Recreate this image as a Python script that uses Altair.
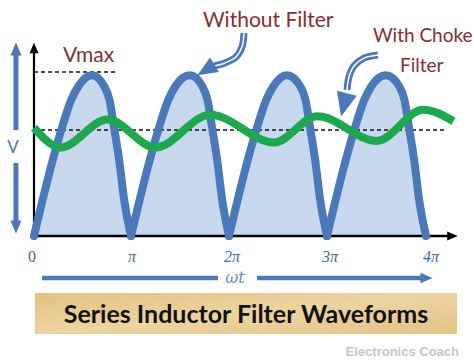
import altair as alt
import pandas as pd

# ---------------- data ----------------
# x in units of pi, y in units of Vmax
hump_id = [1] * 12 + [2] * 12 + [3] * 12 + [4] * 12
hump_x = [0.00, 0.19, 0.28, 0.38, 0.45, 0.59, 0.72, 0.77, 0.82, 0.87, 0.92, 0.99,
          0.99, 1.18, 1.27, 1.37, 1.44, 1.59, 1.72, 1.77, 1.82, 1.87, 1.92, 1.99,
          1.99, 2.18, 2.27, 2.37, 2.44, 2.58, 2.72, 2.77, 2.82, 2.87, 2.92, 2.99,
          2.99, 3.18, 3.27, 3.37, 3.44, 3.59, 3.73, 3.78, 3.83, 3.88, 3.93, 4.00]
hump_y = [0.00, 0.46, 0.65, 0.83, 0.91, 0.98, 0.91, 0.83, 0.65, 0.46, 0.22, 0.00,
          0.00, 0.46, 0.65, 0.83, 0.91, 0.98, 0.91, 0.83, 0.65, 0.46, 0.22, 0.00,
          0.00, 0.46, 0.65, 0.83, 0.91, 0.98, 0.91, 0.83, 0.65, 0.46, 0.22, 0.00,
          0.00, 0.46, 0.65, 0.83, 0.91, 0.98, 0.91, 0.83, 0.65, 0.46, 0.22, 0.00]

green_x = [0.00, 0.27, 0.75, 1.24, 1.80, 2.45, 2.89, 3.50, 3.97, 4.28]
green_y = [0.66, 0.54, 0.71, 0.54, 0.74, 0.57, 0.73, 0.58, 0.77, 0.70]

tick_labels = ["0", "π", "2π", "3π", "4π"]
tick_pos = [-0.02, 1.00, 2.02, 3.02, 4.05]

vmax_level = 1.0
mean_level = 0.646

title_text = "Series Inductor Filter Waveforms"
watermark = "Electronics Coach"

# ---------------- styles ----------------
BLUE = "#4A78B8"
FILL = "#C8D8EF"
GREEN = "#1CA84C"
RED = "#7F2F35"
TICKC = "#3F6897"

xs = alt.Scale(domain=[-0.3469, 4.4898], nice=False, zero=False)
ys = alt.Scale(domain=[-0.7622, 1.4390], nice=False, zero=False)


def X(f="x"):
    return alt.X(f"{f}:Q", scale=xs, axis=None)


def Y(f="y"):
    return alt.Y(f"{f}:Q", scale=ys, axis=None)


humps = pd.DataFrame({"id": hump_id, "x": hump_x, "y": hump_y})
green = pd.DataFrame({"x": green_x, "y": green_y})

area = alt.Chart(humps).mark_area(interpolate="monotone", color=FILL, opacity=1).encode(
    x=X(), y=Y(), detail="id:N")

blue_line = alt.Chart(humps).mark_line(interpolate="monotone", color=BLUE, strokeWidth=8,
                                       strokeCap="round", strokeJoin="round").encode(
    x=X(), y=Y(), detail="id:N")

green_line = alt.Chart(green).mark_line(interpolate="monotone", color=GREEN, strokeWidth=8,
                                        strokeCap="butt").encode(x=X(), y=Y())

dashed = alt.Chart(pd.DataFrame({
    "x": [0.0, 0.0], "x2": [0.857, 4.19], "y": [vmax_level, mean_level]
})).mark_rule(color="#111", strokeWidth=1.4, strokeDash=[4, 3]).encode(
    x=X(), x2="x2:Q", y=Y())

# solid rules: axes and the V / wt arrows
rules = pd.DataFrame({
    "x":  [0.0, 0.0, -0.184, -0.184, 0.082, 2.276],
    "x2": [0.0, 4.22, -0.184, -0.184, 1.878, 3.95],
    "y":  [0.0, 0.0, 1.104, 0.445, -0.256, -0.256],
    "y2": [1.12, 0.0, 0.646, 0.09, -0.256, -0.256],
    "c":  ["#000", "#000", BLUE, BLUE, BLUE, BLUE],
    "w":  [2.2, 2.6, 5, 5, 4.5, 4.5],
})
rule_layer = alt.Chart(rules).mark_rule().encode(
    x=X(), x2="x2:Q", y=Y(), y2="y2:Q",
    color=alt.Color("c:N", scale=None),
    strokeWidth=alt.StrokeWidth("w:Q", scale=None))

# arrowheads
TRI = "M0,-1L0.85,1L-0.85,1Z"
heads = pd.DataFrame({
    "x": [0.0, 4.27, -0.184, -0.184, 4.005, 1.755, 3.163],
    "y": [1.146, 0.0, 1.14, 0.055, -0.256, 1.012, 0.799],
    "a": [0, 90, 0, 180, 90, 238, 194],
    "s": [110, 110, 169, 169, 150, 400, 576],
    "c": ["#000", "#000", BLUE, BLUE, BLUE, BLUE, BLUE],
})
head_layer = alt.Chart(heads).mark_point(shape=TRI, filled=True, opacity=1, strokeWidth=0).encode(
    x=X(), y=Y(),
    angle=alt.Angle("a:Q", scale=None),
    size=alt.Size("s:Q", scale=None),
    color=alt.Color("c:N", scale=None))

# curved annotation arrow shafts
shafts = pd.DataFrame({
    "g": [1, 1, 1, 1, 1, 2, 2, 2, 2, 2],
    "i": [0, 1, 2, 3, 4, 0, 1, 2, 3, 4],
    "x": [2.143, 2.122, 2.061, 1.949, 1.837, 3.510, 3.367, 3.265, 3.214, 3.194],
    "y": [1.238, 1.152, 1.091, 1.055, 1.037, 1.104, 1.085, 1.037, 0.970, 0.890],
})
shaft_blue = alt.Chart(shafts).mark_line(interpolate="catmull-rom", color=BLUE, strokeWidth=7).encode(
    x=X(), y=Y(), detail="g:N", order="i:Q")
shaft_white = alt.Chart(shafts).mark_line(interpolate="catmull-rom", color="white", strokeWidth=1.5).encode(
    x=X(), y=Y(), detail="g:N", order="i:Q")

# annotation texts
ann = pd.DataFrame({
    "t": ["Vmax", "Without Filter", "With Choke", "Filter"],
    "x": [0.296, 1.724, 3.459, 3.735],
    "y": [1.061, 1.274, 1.183, 1.0],
    "s": [21, 21, 19, 19],
})
ann_layer = alt.Chart(ann).mark_text(align="left", baseline="alphabetic", font="Lato",
                                     color=RED).encode(
    x=X(), y=Y(), text="t:N", size=alt.Size("s:Q", scale=None))

ticks = pd.DataFrame({"t": tick_labels, "x": tick_pos, "y": [-0.128] * len(tick_labels)})
tick_zero = alt.Chart(ticks.iloc[:1]).mark_text(align="center", baseline="middle", font="Liberation Serif",
                                                fontSize=16, color=TICKC).encode(
    x=X(), y=Y(), text="t:N")
tick_pi = alt.Chart(ticks.iloc[1:]).mark_text(align="center", baseline="middle", font="Liberation Serif",
                                              fontSize=16, color=TICKC, fontStyle="italic").encode(
    x=X(), y=Y(), text="t:N")

v_label = alt.Chart(pd.DataFrame({"t": ["V"], "x": [-0.214], "y": [0.537]})).mark_text(
    align="center", baseline="middle", font="Lato", fontSize=17, color=BLUE).encode(
    x=X(), y=Y(), text="t:N")

wt_label = alt.Chart(pd.DataFrame({"t": ["ωt"], "x": [2.05], "y": [-0.256]})).mark_text(
    align="center", baseline="middle", font="DejaVu Serif", fontSize=16, fontStyle="italic",
    color="#6A8CBB").encode(x=X(), y=Y(), text="t:N")

box = alt.Chart(pd.DataFrame({"x": [0.01], "x2": [4.316], "y": [-0.348], "y2": [-0.598]})).mark_rect(
    color=alt.Gradient(gradient="linear", x1=0, x2=1, y1=0, y2=1,
                       stops=[alt.GradientStop(color="#E3C282", offset=0),
                              alt.GradientStop(color="#EDD4A0", offset=0.5),
                              alt.GradientStop(color="#E3C385", offset=1)])).encode(
    x=X(), x2="x2:Q", y=Y(), y2="y2:Q")

title_layer = alt.Chart(pd.DataFrame({"t": [title_text], "x": [2.163], "y": [-0.482]})).mark_text(
    align="center", baseline="middle", font="Lato", fontWeight="bold", fontSize=25,
    color="#111").encode(x=X(), y=Y(), text="t:N")

wm_layer = alt.Chart(pd.DataFrame({"t": [watermark], "x": [4.337], "y": [-0.707]})).mark_text(
    align="right", baseline="middle", font="Liberation Sans", fontWeight="bold", fontSize=13,
    color="#C6C6C6").encode(x=X(), y=Y(), text="t:N")

chart = alt.layer(
    area, dashed, rule_layer, blue_line, green_line, shaft_blue, shaft_white, head_layer,
    ann_layer, tick_zero, tick_pi, v_label, wt_label, box, title_layer, wm_layer
).properties(
    width=474, height=361, padding=0, autosize=alt.AutoSizeParams(type="none"),
    background="white"
).configure_view(stroke=None)

chart.save("out.html", embed_options={"renderer": "svg", "actions": False})
